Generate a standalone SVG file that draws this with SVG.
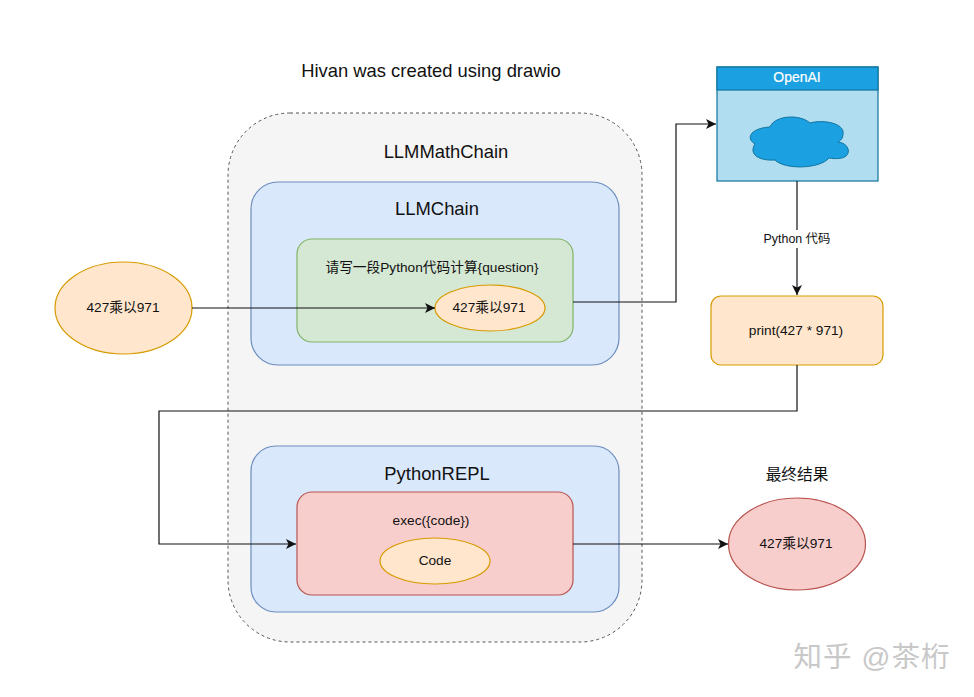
<svg xmlns="http://www.w3.org/2000/svg" width="974" height="697" viewBox="0 0 974 697">
<style>
text{font-family:"Liberation Sans","Noto Sans CJK SC",sans-serif;fill:#111;text-anchor:middle}
.s{font-size:13.7px}.l{font-size:18.400px}
.c{fill:none;stroke:#111;stroke-width:1.2;marker-end:url(#a)}
.o{fill:#ffe6cc;stroke:#d79b00;stroke-width:1.2}
.b{fill:#dae8fc;stroke:#6c8ebf;stroke-width:1.2}
.r{fill:#f8cecc;stroke:#b85450;stroke-width:1.2}
</style>
<defs><marker id="a" markerWidth="11" markerHeight="10" refX="10" refY="5" orient="auto" markerUnits="userSpaceOnUse"><path d="M0 0L10 5L0 10L2.500 5Z" fill="#111"/></marker></defs>
<rect width="974" height="697" fill="#fff"/>
<text class="l" x="431" y="77">Hivan was created using drawio</text>
<g id="outer"><rect x="228" y="113" width="414" height="529" rx="62" fill="#f5f5f5" stroke="#555" stroke-width="1" stroke-dasharray="3 3"/><text class="l" x="446" y="158">LLMMathChain</text></g>
<g id="llmchain"><rect class="b" x="251" y="182" width="368" height="183" rx="27"/><text class="l" x="437" y="215">LLMChain</text></g>
<g id="prompt"><rect x="297" y="239" width="276" height="103" rx="15" fill="#d5e8d4" stroke="#82b366" stroke-width="1.2"/><text class="s" x="432" y="272">请写一段Python代码计算{question}</text></g>
<g id="question"><ellipse class="o" cx="490" cy="308" rx="55" ry="23"/><text class="s" x="489" y="312">427乘以971</text></g>
<g id="input"><ellipse class="o" cx="123.500" cy="308" rx="68.500" ry="46"/><text class="s" x="123" y="312">427乘以971</text></g>
<g id="openai"><rect x="717" y="67" width="161" height="114" fill="#b1ddf0" stroke="#10739e" stroke-width="1.2"/><rect x="717" y="67" width="161" height="23" fill="#1ba1e2" stroke="#10739e" stroke-width="1.2"/><text x="797" y="82" style="fill:#fff;font-size:14px;stroke:#fff;stroke-width:.2">OpenAI</text>
<path d="M755 144C745 138 751 128 770 127C775 115 800 114 810 123C825 119 845 124 843 134C843 139 840 141 838 142C848 143 851 152 846 156C842 159 836 159 829 158C820 169 785 170 775 160C760 161 748 155 755 144Z" fill="#1ba1e2" stroke="#10739e" stroke-width="1"/></g>
<g id="code"><rect class="o" x="711" y="296" width="172" height="69" rx="10"/><text class="s" x="796" y="335">print(427 * 971)</text></g>
<g id="repl"><rect class="b" x="251" y="446" width="368" height="166" rx="25"/><text class="l" x="437" y="480">PythonREPL</text></g>
<g id="exec"><rect class="r" x="297" y="492" width="276" height="103" rx="15"/><text class="s" x="431" y="525">exec({code})</text></g>
<g id="codeNode"><ellipse class="o" cx="435" cy="561" rx="55" ry="23"/><text class="s" x="435" y="565">Code</text></g>
<g id="result"><ellipse class="r" cx="797" cy="544" rx="68.500" ry="46"/><text class="s" x="796" y="548">427乘以971</text></g>
<text x="797" y="480" style="font-size:15.700px">最终结果</text>
<g id="connectors">
<path class="c" d="M192 308H435"/>
<path class="c" d="M573 302H676V124H716"/>
<path class="c" d="M797 181V295"/>
<path class="c" d="M797 365V411H159V544H296"/>
<path class="c" d="M573 544H728"/>
<rect x="759" y="230" width="76" height="18" fill="#fff"/>
<text x="797" y="243" style="font-size:12.400px">Python 代码</text>
</g>
<text x="872" y="667" style="font-size:28.500px;fill:#c8c8c8;letter-spacing:1px">知乎 @茶桁</text>
</svg>
